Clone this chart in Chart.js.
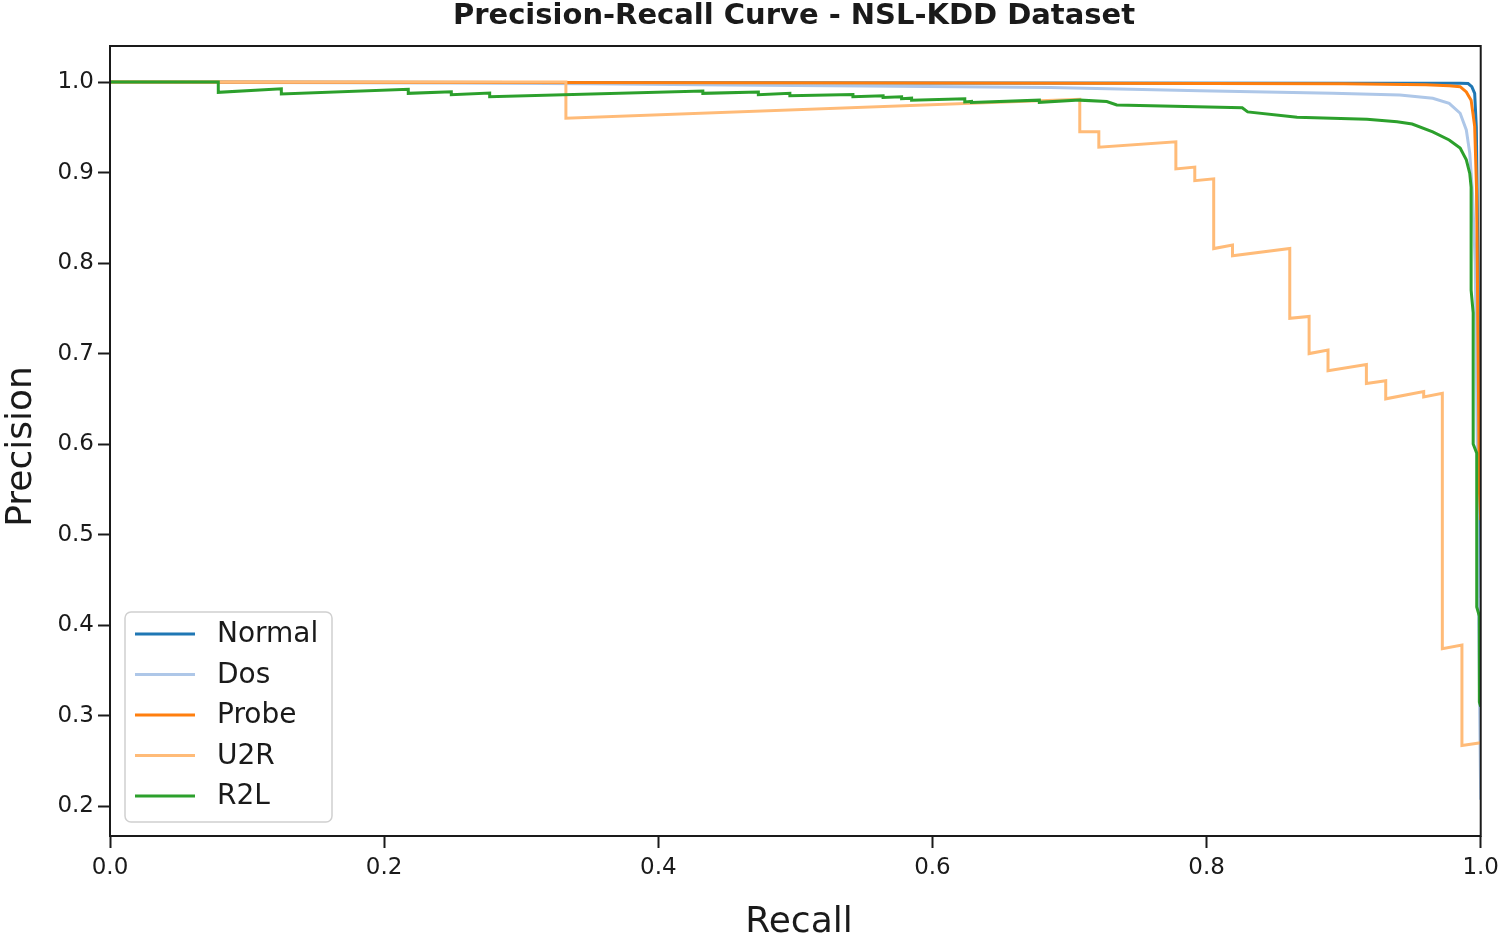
<!DOCTYPE html>
<html>
<head>
<meta charset="utf-8">
<title>Precision-Recall Curve - NSL-KDD Dataset</title>
<script src="https://cdn.jsdelivr.net/npm/chart.js@4.4.1/dist/chart.umd.min.js"></script>
<style>
  html, body { margin: 0; padding: 0; background: #ffffff; }
  #wrap { width: 1505px; height: 936px; }
</style>
</head>
<body>
<div id="wrap"><canvas id="myChart" width="1505" height="936"></canvas></div>
<script>
// class names, legend order
var classNames = ['Normal', 'Dos', 'Probe', 'U2R', 'R2L'];
var classColors = ['#1f77b4', '#aec7e8', '#ff7f0e', '#ffbb78', '#2ca02c'];

// (recall, precision pairs)
var normalRecall    = [0, 0.3, 0.6, 0.9, 0.985, 0.9908, 0.9935, 0.9956, 0.9968, 0.998, 0.999, 1.0];
var normalPrecision = [1.0, 0.9995, 0.999, 0.9987, 0.9986, 0.9984, 0.995, 0.9875, 0.95, 0.80, 0.60, 0.43];

var dosRecall    = [0, 0.1, 0.25, 0.35, 0.45, 0.55, 0.686, 0.795, 0.892, 0.941, 0.965, 0.977, 0.985, 0.9895, 0.992, 0.994, 0.996, 0.9975, 0.9985, 0.9993, 1.0];
var dosPrecision = [1.0, 0.9995, 0.999, 0.998, 0.9967, 0.9955, 0.994, 0.9904, 0.9875, 0.9856, 0.982, 0.9765, 0.9655, 0.947, 0.9215, 0.877, 0.80, 0.60, 0.40, 0.30, 0.207];

var probeRecall    = [0, 0.3, 0.6, 0.9, 0.96, 0.977, 0.985, 0.9895, 0.993, 0.9956, 0.997, 0.998, 0.999, 1.0];
var probePrecision = [1.0, 0.9995, 0.999, 0.998, 0.997, 0.996, 0.9948, 0.989, 0.980, 0.951, 0.88, 0.72, 0.55, 0.516];

var u2rRecall    = [0, 0.3326, 0.3326, 0.7075, 0.7075, 0.7214, 0.7214, 0.7776, 0.7776, 0.7914, 0.7914, 0.8052, 0.8052, 0.8189, 0.8189, 0.8607, 0.8607, 0.8748, 0.8748, 0.8886, 0.8886, 0.9166, 0.9166, 0.9307, 0.9307, 0.9584, 0.9584, 0.9720, 0.9720, 0.9863, 0.9863, 1.0];
var u2rPrecision = [1.0, 1.0, 0.960, 0.981, 0.945, 0.945, 0.928, 0.934, 0.904, 0.906, 0.891, 0.893, 0.816, 0.820, 0.808, 0.816, 0.739, 0.741, 0.700, 0.704, 0.681, 0.688, 0.667, 0.670, 0.650, 0.658, 0.652, 0.656, 0.374, 0.378, 0.267, 0.270];

var r2lRecall    = [0, 0.079, 0.079, 0.125, 0.125, 0.2176, 0.2176, 0.249, 0.249, 0.277, 0.277, 0.4325, 0.4325, 0.473, 0.473, 0.496, 0.496, 0.542, 0.542, 0.564, 0.564, 0.5775, 0.5775, 0.5848, 0.5848, 0.6236, 0.6236, 0.6285, 0.6285, 0.678, 0.678, 0.7075, 0.7272, 0.7345, 0.826, 0.830, 0.861, 0.866, 0.917, 0.939, 0.950, 0.965, 0.977, 0.985, 0.9895, 0.992, 0.993, 0.993, 0.9945, 0.9945, 0.9971, 0.9971, 0.999, 0.999, 1.0];
var r2lPrecision = [1.0, 1.0, 0.9886, 0.9926, 0.9867, 0.9919, 0.9875, 0.9893, 0.986, 0.9878, 0.9838, 0.990, 0.9875, 0.989, 0.986, 0.9875, 0.9849, 0.9862, 0.9838, 0.9849, 0.983, 0.9838, 0.9816, 0.9822, 0.980, 0.9816, 0.978, 0.9786, 0.9775, 0.980, 0.9776, 0.980, 0.9785, 0.9746, 0.9716, 0.967, 0.962, 0.961, 0.9588, 0.956, 0.9536, 0.945, 0.936, 0.927, 0.914, 0.899, 0.884, 0.770, 0.745, 0.60, 0.59, 0.42, 0.41, 0.315, 0.31];

var xTicks = [0, 0.2, 0.4, 0.6, 0.8, 1.0];
var yTicks = [0.2, 0.3, 0.4, 0.5, 0.6, 0.7, 0.8, 0.9, 1.0];

var FONT = "'DejaVu Sans', 'Liberation Sans', sans-serif";
var INK = '#1a1a1a';

function toPoints(rs, ps) {
    var pts = [];
    for (var i = 0; i < rs.length; i++) pts.push({ x: rs[i], y: ps[i] });
    return pts;
}

var curves = [
    toPoints(normalRecall, normalPrecision),
    toPoints(dosRecall, dosPrecision),
    toPoints(probeRecall, probePrecision),
    toPoints(u2rRecall, u2rPrecision),
    toPoints(r2lRecall, r2lPrecision)
];

var datasets = classNames.map(function (name, i) {
    return {
        label: name,
        data: curves[i],
        borderColor: classColors[i],
        backgroundColor: classColors[i],
        borderWidth: 3,
        pointRadius: 0,
        tension: 0,
        fill: false,
        // later classes painted on top, like matplotlib
        order: classNames.length - i
    };
});

// title, frame, legend box and axis labels
var decorations = {
    id: 'decorations',
    afterDatasetsDraw: function (chart) {
        var ctx = chart.ctx;
        var a = chart.chartArea;
        ctx.save();
        ctx.strokeStyle = INK;
        ctx.lineWidth = 2;
        ctx.strokeRect(a.left, a.top, a.right - a.left, a.bottom - a.top);

        // legend in lower left corner
        var bx = 125, by = 612, bw = 207, bh = 210, r = 6;
        ctx.beginPath();
        ctx.moveTo(bx + r, by);
        ctx.arcTo(bx + bw, by, bx + bw, by + bh, r);
        ctx.arcTo(bx + bw, by + bh, bx, by + bh, r);
        ctx.arcTo(bx, by + bh, bx, by, r);
        ctx.arcTo(bx, by, bx + bw, by, r);
        ctx.closePath();
        ctx.fillStyle = 'rgba(255,255,255,0.85)';
        ctx.fill();
        ctx.strokeStyle = '#d0d0d0';
        ctx.lineWidth = 1.5;
        ctx.stroke();

        ctx.font = '28px ' + FONT;
        ctx.textBaseline = 'middle';
        ctx.textAlign = 'left';
        chart.data.datasets.forEach(function (ds, i) {
            var yy = 634 + i * 40.5;
            ctx.strokeStyle = ds.borderColor;
            ctx.lineWidth = 3;
            ctx.beginPath();
            ctx.moveTo(135, yy);
            ctx.lineTo(195, yy);
            ctx.stroke();
            ctx.fillStyle = INK;
            ctx.fillText(ds.label, 217, yy + 1);
        });

        // chart title
        ctx.fillStyle = INK;
        ctx.font = 'bold 29px ' + FONT;
        ctx.textAlign = 'center';
        ctx.textBaseline = 'alphabetic';
        ctx.fillText('Precision-Recall Curve - NSL-KDD Dataset', 794, 24);

        // axis titles
        ctx.font = '36px ' + FONT;
        ctx.fillText('Recall', 799, 932);
        ctx.translate(31, 446.5);
        ctx.rotate(-Math.PI / 2);
        ctx.fillText('Precision', 0, 0);
        ctx.restore();
    }
};

var config = {
    type: 'line',
    data: { datasets: datasets },
    options: {
        responsive: false,
        animation: false,
        layout: { padding: { left: 0, right: 24, top: 46, bottom: 0 } },
        plugins: {
            legend: { display: false },
            tooltip: { enabled: false },
            title: { display: false }
        },
        scales: {
            x: {
                type: 'linear',
                min: 0,
                max: 1.0,
                afterFit: function (scale) { scale.height = 100; },
                afterBuildTicks: function (scale) {
                    scale.ticks = xTicks.map(function (v) { return { value: v }; });
                },
                grid: { display: true, drawOnChartArea: false, drawTicks: true, tickLength: 12, tickWidth: 2, tickColor: INK },
                border: { display: false },
                ticks: {
                    color: INK,
                    padding: 6,
                    maxRotation: 0,
                    font: { family: FONT, size: 23 },
                    callback: function (v) { return Number(v).toFixed(1); }
                }
            },
            y: {
                type: 'linear',
                min: 0.167,
                max: 1.0398,
                afterFit: function (scale) { scale.width = 110; },
                afterBuildTicks: function (scale) {
                    scale.ticks = yTicks.map(function (v) { return { value: v }; });
                },
                grid: { display: true, drawOnChartArea: false, drawTicks: true, tickLength: 12, tickWidth: 2, tickColor: INK },
                border: { display: false },
                ticks: {
                    color: INK,
                    padding: 4,
                    font: { family: FONT, size: 23 },
                    callback: function (v) { return Number(v).toFixed(1); }
                }
            }
        }
    },
    plugins: [decorations]
};

window.onload = function () {
    var ctx = document.getElementById('myChart').getContext('2d');
    window.prChart = new Chart(ctx, config);
};
</script>
</body>
</html>
